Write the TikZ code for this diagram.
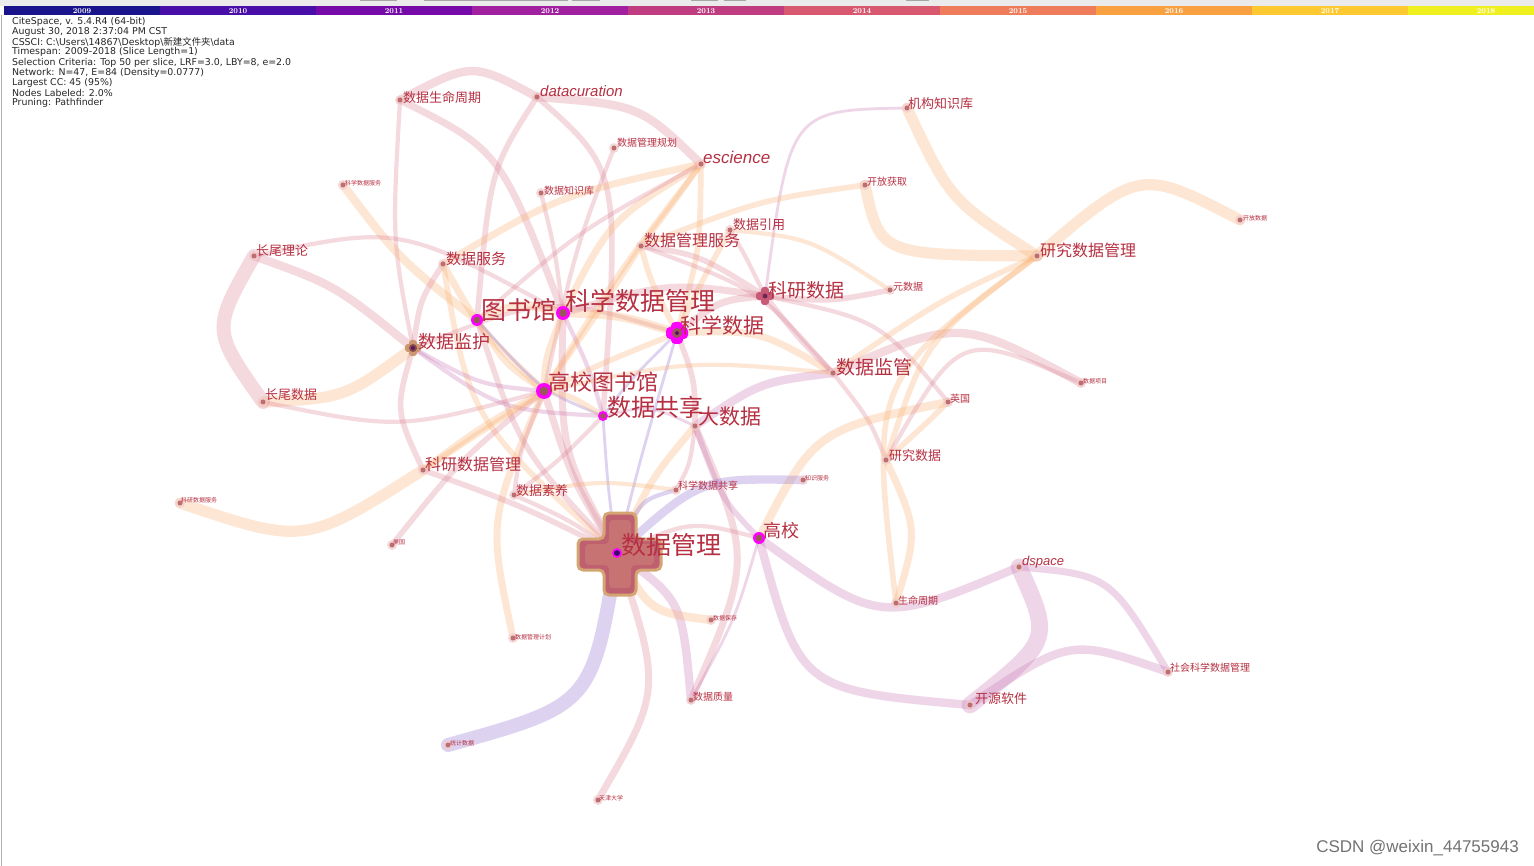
\documentclass[tikz,border=0pt]{standalone}
\usepackage{fontspec}
\usetikzlibrary{calc}
\newfontfamily\cjk{Noto Sans CJK SC}
\newfontfamily\lat{Liberation Sans}
\newfontfamily\hdr{DejaVu Sans}
\definecolor{lbl}{RGB}{182,48,66}
\definecolor{epink}{RGB}{220,130,150}
\definecolor{epeach}{RGB}{250,175,110}
\definecolor{elilac}{RGB}{150,120,210}
\definecolor{emauve}{RGB}{200,120,180}
\definecolor{dotc}{RGB}{190,110,110}
\definecolor{halo}{RGB}{240,205,205}
\definecolor{mag}{RGB}{255,0,255}
\definecolor{hubpink}{RGB}{200,90,120}
\definecolor{hubdark}{RGB}{110,40,80}
\definecolor{hubtan}{RGB}{205,150,110}
\definecolor{core}{RGB}{90,20,100}
\definecolor{core2}{RGB}{60,10,110}
\definecolor{crossedge}{RGB}{212,165,115}
\definecolor{crossout}{RGB}{190,96,112}
\definecolor{crossin}{RGB}{200,115,115}
\definecolor{y09}{RGB}{26,20,140}
\definecolor{y10}{RGB}{74,14,168}
\definecolor{y11}{RGB}{118,10,168}
\definecolor{y12}{RGB}{160,32,160}
\definecolor{y13}{RGB}{192,60,128}
\definecolor{y14}{RGB}{216,88,112}
\definecolor{y15}{RGB}{238,124,90}
\definecolor{y16}{RGB}{249,160,64}
\definecolor{y17}{RGB}{253,200,48}
\definecolor{y18}{RGB}{240,240,32}
\tikzset{
  ep/.style={draw=epink,line width=1.4*#1,opacity=.3,line cap=round}, ep/.default=4,
  eo/.style={draw=epeach,line width=1.4*#1,opacity=.3,line cap=round}, eo/.default=4,
  el/.style={draw=elilac,line width=1.4*#1,opacity=.32,line cap=round}, el/.default=4,
  em/.style={draw=emauve,line width=1.4*#1,opacity=.3,line cap=round}, em/.default=4,
  lab/.style={anchor=west,inner sep=0pt,text=lbl,font=\cjk\fontsize{#1}{#1}\selectfont}, lab/.default=13,
  llab/.style={anchor=west,inner sep=0pt,text=lbl,font=\lat\itshape\fontsize{#1}{#1}\selectfont},
  yr/.style={text=white,font=\bfseries\fontsize{7.5}{7.5}\selectfont,inner sep=0pt},
  hd/.style={anchor=west,inner sep=0pt,font=\hdr\fontsize{9.4}{9.4}\selectfont,text=black!85}
}
\begin{document}
\begin{tikzpicture}[x=1pt,y=-1pt]
\useasboundingbox (0,0) rectangle (1534,866);
\fill[white] (0,0) rectangle (1534,866);
\fill[black!8] (0,0) rectangle (1534,6);
\foreach \a/\b in {360/397,424/568,572/600,691/718,724/746,906/929}{\fill[gray!70] (\a,0) rectangle (\b,1.5);}
\draw[gray!60,line width=1] (1.5,15) -- (1.5,866);
% year bar
\foreach \i/\c/\t in {0/y09/2009,1/y10/2010,2/y11/2011,3/y12/2012,4/y13/2013,5/y14/2014,6/y15/2015,7/y16/2016,8/y17/2017,9/y18/2018}{
  \fill[\c] (4+156*\i,6) rectangle (160+156*\i,15);
  \node[yr] at (82+156*\i,11) {\t};
}
% header
\foreach \t [count=\k] in {CiteSpace{,} v. 5.4.R4 (64-bit),August 30{,} 2018 2:37:04 PM CST,CSSCI: C:\textbackslash Users\textbackslash 14867\textbackslash Desktop\textbackslash{\cjk 新建文件夹}\textbackslash data,Timespan: 2009-2018 (Slice Length=1),Selection Criteria: Top 50 per slice{,} LRF=3.0{,} LBY=8{,} e=2.0,Network: N=47{,} E=84 (Density=0.0777),Largest CC: 45 (95\%),Nodes Labeled: 2.0\%,Pruning: Pathfinder}{
  \node[hd] at (12,12+10.1*\k) {\t};
}
% node coordinates
\coordinate (dc) at (537,97);
\coordinate (smzq) at (400,100);
\coordinate (jgzsk) at (907,108);
\coordinate (sjglgh) at (614,148);
\coordinate (es) at (701,164);
\coordinate (kxsjfw) at (343,185);
\coordinate (kfhq) at (865,185);
\coordinate (sjzsk) at (541,193);
\coordinate (kfsj) at (1240,220);
\coordinate (sjyy) at (730,230);
\coordinate (sjglfw) at (641,246);
\coordinate (cwll) at (254,256);
\coordinate (yjsjgl) at (1037,256);
\coordinate (sjfw) at (443,264);
\coordinate (kysj) at (765,296);
\coordinate (ysj) at (890,290);
\coordinate (tsg) at (477,320);
\coordinate (kxsjgl) at (563,313);
\coordinate (kxsj) at (677,333);
\coordinate (sjjh) at (413,348);
\coordinate (sjjg) at (833,373);
\coordinate (sjxm) at (1081,383);
\coordinate (gxtsg) at (544,391);
\coordinate (cwsj) at (263,402);
\coordinate (yg) at (948,402);
\coordinate (sjgx) at (603,416);
\coordinate (dsj) at (695,426);
\coordinate (yjsj) at (886,460);
\coordinate (kysjgl) at (423,470);
\coordinate (kxsjgx) at (676,490);
\coordinate (zsfw) at (803,480);
\coordinate (sjsy) at (514,495);
\coordinate (kysjfw) at (180,503);
\coordinate (gx) at (759,538);
\coordinate (mg) at (392,545);
\coordinate (sjgl) at (617,553);
\coordinate (ds) at (1019,567);
\coordinate (smzq2) at (896,603);
\coordinate (sjbc) at (711,620);
\coordinate (sjgljh) at (513,638);
\coordinate (shkx) at (1168,672);
\coordinate (sjzl) at (691,700);
\coordinate (kyrj) at (970,705);
\coordinate (tjsj) at (448,745);
\coordinate (tjdx) at (598,800);
% ---------------- edges
\draw[ep=6] (smzq) .. controls (472,62) .. (dc);
\draw[ep=6] (dc) .. controls (640,105) .. (es);
\draw[ep=3] (smzq) .. controls (392,240) .. (sjjh);
\draw[ep=5] (smzq) .. controls (500,150) .. (kxsjgl);
\draw[ep=4] (dc) .. controls (490,170) .. (tsg);
\draw[ep=4] (dc) .. controls (620,170) .. (sjgx);
\draw[ep=3] (sjglgh) .. controls (575,250) .. (gxtsg);
\draw[ep=3] (sjzsk) .. controls (555,250) .. (kxsjgl);
\draw[eo=5] (es) .. controls (560,195) .. (sjfw);
\draw[eo=5] (es) .. controls (610,220) .. (kxsjgl);
\draw[eo=4] (es) .. controls (672,205) .. (sjglfw);
\draw[eo=4] (es) .. controls (620,270) .. (gxtsg);
\draw[ep=3] (es) .. controls (580,230) .. (tsg);
\draw[eo=4] (es) .. controls (700,250) .. (kxsj);
\draw[eo=6] (kxsjfw) .. controls (400,260) .. (tsg);
\draw[ep=10] (cwll) .. controls (212,330) .. (cwsj);
\draw[ep=6] (cwll) .. controls (335,285) .. (sjjh);
\draw[ep=3] (cwll) .. controls (400,225) .. (kxsjgl);
\draw[eo=8] (cwsj) .. controls (345,398) .. (sjjh);
\draw[ep=3] (cwsj) .. controls (400,430) .. (gxtsg);
\draw[ep=4] (sjfw) .. controls (420,300) .. (sjjh);
\draw[eo=5] (sjfw) .. controls (480,330) .. (gxtsg);
\draw[eo=4] (sjfw) .. controls (470,420) .. (sjgl);
\draw[ep=4] (sjjh) .. controls (395,410) .. (kysjgl);
\draw[em=3] (sjjh) .. controls (480,385) .. (gxtsg);
\draw[ep=3] (sjjh) .. controls (550,295) .. (kxsj);
\draw[em=3] (sjjh) .. controls (500,410) .. (sjgx);
\draw[eo=6] (tsg) .. controls (520,302) .. (kxsjgl);
\draw[ep=4] (tsg) .. controls (520,450) .. (sjgl);
\draw[eo=4] (tsg) .. controls (505,365) .. (gxtsg);
\draw[el=2] (tsg) .. controls (540,390) .. (sjgx);
\draw[eo=6] (kxsjgl) .. controls (620,315) .. (kxsj);
\draw[ep=5] (kxsjgl) .. controls (560,450) .. (sjgl);
\draw[ep=5] (kxsjgl) .. controls (670,282) .. (kysj);
\draw[eo=5] (kxsjgl) .. controls (545,360) .. (gxtsg);
\draw[em=3] (kxsjgl) .. controls (590,370) .. (sjgx);
\draw[el=2] (kxsj) .. controls (630,380) .. (sjgx);
\draw[ep=4] (kxsj) .. controls (695,380) .. (dsj);
\draw[eo=4] (kxsj) .. controls (650,280) .. (sjglfw);
\draw[ep=5] (kxsj) .. controls (720,300) .. (kysj);
\draw[eo=5] (kxsj) .. controls (760,330) .. (sjjg);
\draw[eo=4] (kxsj) .. controls (705,275) .. (sjyy);
\draw[el=2] (kxsj) .. controls (640,460) .. (sjgl);
\draw[ep=4] (kysj) .. controls (830,302) .. (ysj);
\draw[ep=4] (kysj) .. controls (700,255) .. (sjglfw);
\draw[ep=4] (kysj) .. controls (800,340) .. (sjjg);
\draw[em=2] (kysj) .. controls (790,110) .. (jgzsk);
\draw[ep=3] (kysj) .. controls (880,320) .. (yg);
\draw[ep=3] (kysj) .. controls (745,255) .. (sjyy);
\draw[eo=4] (kfhq) .. controls (760,200) .. (sjglfw);
\draw[eo=3] (ysj) .. controls (810,238) .. (sjyy);
\draw[ep=3] (sjglfw) .. controls (760,290) .. (sjjg);
\draw[eo=4] (sjglfw) .. controls (600,310) .. (gxtsg);
\draw[ep=6] (sjjg) .. controls (960,318) .. (sjxm);
\draw[em=6] (sjjg) .. controls (760,382) .. (dsj);
\draw[eo=4] (sjjg) .. controls (940,300) .. (yjsjgl);
\draw[ep=3] (sjjg) .. controls (870,420) .. (yjsj);
\draw[eo=3] (sjjg) .. controls (690,360) .. (gxtsg);
\draw[eo=4] (yjsj) .. controls (930,420) .. (yg);
\draw[eo=5] (yjsj) .. controls (918,530) .. (smzq2);
\draw[eo=4] (yjsj) .. controls (925,340) .. (yjsjgl);
\draw[eo=6] (yg) .. controls (815,430) .. (gx);
\draw[eo=4] (smzq2) .. controls (870,380) .. (yjsjgl);
\draw[ep=5] (dsj) .. controls (752,560) .. (sjzl);
\draw[em=4] (dsj) .. controls (722,500) .. (gx);
\draw[eo=5] (dsj) .. controls (650,480) .. (sjgl);
\draw[em=2] (dsj) .. controls (650,405) .. (sjgx);
\draw[ep=3] (dsj) .. controls (690,465) .. (kxsjgx);
\draw[el=2] (sjgx) .. controls (608,490) .. (sjgl);
\draw[eo=4] (sjgx) .. controls (570,395) .. (gxtsg);
\draw[ep=3] (sjgx) .. controls (560,460) .. (sjsy);
\draw[eo=5] (gxtsg) .. controls (488,520) .. (sjgljh);
\draw[ep=4] (gxtsg) .. controls (460,460) .. (mg);
\draw[ep=5] (gxtsg) .. controls (572,480) .. (sjgl);
\draw[ep=3] (gxtsg) .. controls (520,450) .. (sjsy);
\draw[eo=5] (gxtsg) .. controls (480,428) .. (kysjgl);
\draw[eo=8] (kysjgl) .. controls (305,545) .. (kysjfw);
\draw[eo=4] (kysjgl) .. controls (560,380) .. (kxsj);
\draw[ep=4] (kysjgl) .. controls (520,505) .. (sjgl);
\draw[ep=3] (sjsy) .. controls (570,520) .. (sjgl);
\draw[eo=3] (sjsy) .. controls (600,480) .. (kxsjgx);
\draw[el=10] (sjgl) .. controls (592,705) .. (tjsj);
\draw[ep=5] (sjgl) .. controls (662,690) .. (tjdx);
\draw[em=6] (sjgl) .. controls (682,600) .. (sjzl);
\draw[eo=6] (sjgl) .. controls (650,612) .. (sjbc);
\draw[el=6] (sjgl) .. controls (700,478) .. (zsfw);
\draw[el=3] (sjgl) .. controls (640,500) .. (kxsjgx);
\draw[ep=3] (sjgl) .. controls (690,520) .. (gx);
\draw[em=6] (gx) .. controls (880,625) .. (ds);
\draw[em=6] (gx) .. controls (800,690) .. (kyrj);
\draw[em=12] (ds) .. controls (1052,640) .. (kyrj);
\draw[em=5] (ds) .. controls (1110,575) .. (shkx);
\draw[em=6] (shkx) .. controls (1070,638) .. (kyrj);
\draw[em=2] (gx) .. controls (735,620) .. (sjzl);
\draw[eo=8] (jgzsk) .. controls (950,200) .. (yjsjgl);
\draw[eo=8] (kfhq) .. controls (880,255) .. (yjsjgl);
\draw[eo=8] (kfsj) .. controls (1140,168) .. (yjsjgl);
\draw[ep=3] (sjxm) .. controls (960,330) .. (yjsj);
% ---------------- node markers
\foreach \n in {dc,smzq,jgzsk,sjglgh,es,kxsjfw,kfhq,sjzsk,kfsj,sjyy,sjglfw,cwll,yjsjgl,sjfw,ysj,sjxm,cwsj,yg,yjsj,kysjgl,kxsjgx,zsfw,sjsy,kysjfw,mg,ds,smzq2,sjbc,sjgljh,shkx,sjzl,kyrj,tjsj,tjdx,dsj,sjjg}{
  \fill[halo,opacity=.7] (\n) circle (5);
  \fill[dotc] (\n) circle (2.5);
}
% hubs
\fill[hubpink,rounded corners=3] ($(kysj)+(-9,-4)$) rectangle ($(kysj)+(9,4)$);
\fill[hubpink,rounded corners=3] ($(kysj)+(-4,-9)$) rectangle ($(kysj)+(4,9)$);
\fill[hubdark] (kysj) circle (2.5);
\fill[hubtan,rounded corners=3] ($(sjjh)+(-8,-4)$) rectangle ($(sjjh)+(8,4)$);
\fill[hubtan,rounded corners=3] ($(sjjh)+(-4,-8)$) rectangle ($(sjjh)+(4,8)$);
\fill[dotc!70!black] (sjjh) circle (4);
\fill[core] (sjjh) circle (2);
\foreach \n/\r in {tsg/6,kxsjgl/7,gxtsg/8,sjgx/5,gx/6}{
  \fill[mag] (\n) circle (\r);
  \fill[dotc!80!black] (\n) circle (0.55*\r);
}
\fill[mag,rounded corners=4] ($(kxsj)+(-11,-6)$) rectangle ($(kxsj)+(11,6)$);
\fill[mag,rounded corners=4] ($(kxsj)+(-6,-11)$) rectangle ($(kxsj)+(6,11)$);
\fill[dotc!80!black] (kxsj) circle (5);
\fill[core] (kxsj) circle (2);
% big cross
\filldraw[rounded corners=5,draw=crossedge,line width=3,fill=crossout]
  (604,513) -- (636,513) -- (636,539) -- (661,539) -- (661,570) -- (636,570) -- (636,595) -- (604,595) -- (604,570) -- (578,570) -- (578,539) -- (604,539) -- cycle;
\fill[rounded corners=4,fill=crossin]
  (609,520) -- (631,520) -- (631,544) -- (654,544) -- (654,565) -- (631,565) -- (631,588) -- (609,588) -- (609,565) -- (585,565) -- (585,544) -- (609,544) -- cycle;
\fill[mag] (sjgl) circle (5);
\fill[core2] (sjgl) circle (3);
% ---------------- labels
\node[llab=15] at (540,91) {datacuration};
\node[lab] at (403,98) {数据生命周期};
\node[lab] at (908,104) {机构知识库};
\node[lab=10] at (617,143) {数据管理规划};
\node[llab=17] at (703,157) {escience};
\node[lab=6] at (345,183) {科学数据服务};
\node[lab=10] at (867,182) {开放获取};
\node[lab=10] at (544,191) {数据知识库};
\node[lab=6] at (1243,218) {开放数据};
\node[lab] at (733,225) {数据引用};
\node[lab=16] at (644,240) {数据管理服务};
\node[lab] at (256,251) {长尾理论};
\node[lab=16] at (1040,250) {研究数据管理};
\node[lab=15] at (446,259) {数据服务};
\node[lab=19] at (768,290) {科研数据};
\node[lab=10] at (893,287) {元数据};
\node[lab=25] at (481,310) {图书馆};
\node[lab=25] at (565,301) {科学数据管理};
\node[lab=21] at (680,325) {科学数据};
\node[lab=18] at (418,342) {数据监护};
\node[lab=19] at (836,367) {数据监管};
\node[lab=6] at (1083,381) {数据项目};
\node[lab=22] at (548,382) {高校图书馆};
\node[lab] at (265,395) {长尾数据};
\node[lab=10] at (950,399) {英国};
\node[lab=24] at (607,407) {数据共享};
\node[lab=21] at (698,417) {大数据};
\node[lab] at (889,456) {研究数据};
\node[lab=16] at (425,464) {科研数据管理};
\node[lab=10] at (678,486) {科学数据共享};
\node[lab=6] at (805,478) {知识服务};
\node[lab] at (516,491) {数据素养};
\node[lab=6] at (181,500) {科研数据服务};
\node[lab=18] at (763,531) {高校};
\node[lab=6] at (393,542) {美国};
\node[lab=25] at (621,545) {数据管理};
\node[llab=13] at (1022,562) {dspace};
\node[lab=10] at (898,601) {生命周期};
\node[lab=6] at (713,618) {数据保存};
\node[lab=6] at (515,637) {数据管理计划};
\node[lab=10] at (1170,668) {社会科学数据管理};
\node[lab=10] at (693,697) {数据质量};
\node[lab] at (975,699) {开源软件};
\node[lab=6] at (450,743) {统计数据};
\node[lab=6] at (599,798) {天津大学};
% watermark
\node[anchor=east,inner sep=0pt,text=black!55,font=\lat\fontsize{17}{17}\selectfont] at (1519,848) {CSDN @weixin\_44755943};
\end{tikzpicture}
\end{document}
